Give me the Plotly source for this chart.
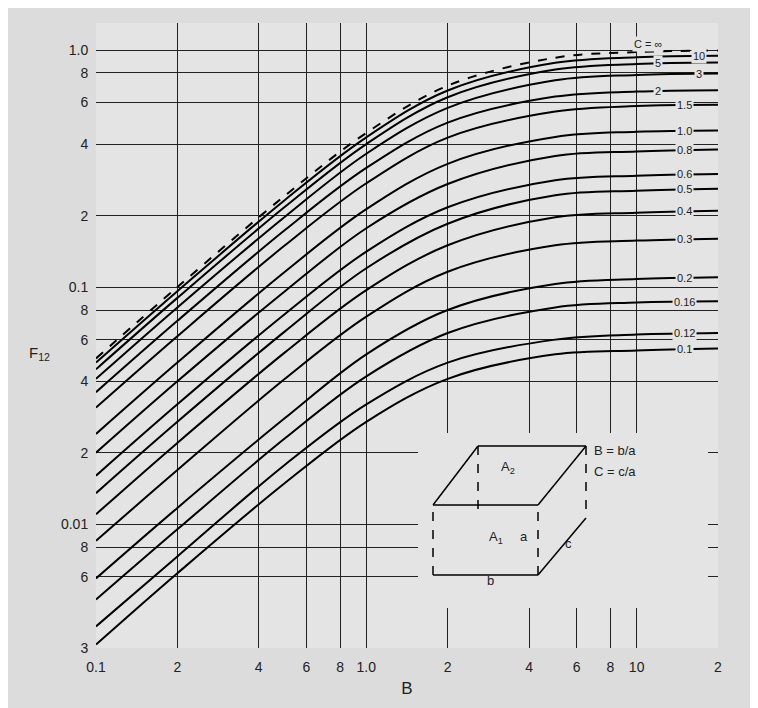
import numpy as np
import plotly.graph_objects as go

B = [0.1, 0.2, 0.5, 1, 2, 5, 10, 20]
C_labels = ["0.1", "0.12", "0.16", "0.2", "0.3", "0.4", "0.5", "0.6", "0.8", "1.0", "1.5", "2", "3", "5", "10", "∞"]
F = [
    [0.0031, 0.0062, 0.0149, 0.027, 0.041, 0.052, 0.054, 0.055],
    [0.0037, 0.0073, 0.0178, 0.032, 0.048, 0.060, 0.063, 0.064],
    [0.0048, 0.0095, 0.023, 0.042, 0.064, 0.082, 0.086, 0.087],
    [0.0059, 0.0117, 0.028, 0.052, 0.080, 0.103, 0.108, 0.11],
    [0.0085, 0.0169, 0.041, 0.075, 0.116, 0.150, 0.157, 0.16],
    [0.011, 0.022, 0.053, 0.097, 0.15, 0.197, 0.206, 0.21],
    [0.0135, 0.027, 0.065, 0.12, 0.185, 0.244, 0.255, 0.26],
    [0.016, 0.032, 0.077, 0.141, 0.217, 0.282, 0.295, 0.30],
    [0.02, 0.04, 0.096, 0.177, 0.272, 0.357, 0.373, 0.38],
    [0.024, 0.048, 0.116, 0.213, 0.331, 0.43, 0.452, 0.458],
    [0.031, 0.062, 0.15, 0.274, 0.427, 0.55, 0.58, 0.587],
    [0.036, 0.072, 0.174, 0.318, 0.494, 0.636, 0.668, 0.677],
    [0.041, 0.082, 0.198, 0.365, 0.57, 0.745, 0.785, 0.796],
    [0.045, 0.09, 0.218, 0.401, 0.632, 0.827, 0.873, 0.886],
    [0.048, 0.096, 0.233, 0.428, 0.675, 0.883, 0.932, 0.945],
    [0.05, 0.1, 0.243, 0.447, 0.707, 0.928, 0.98, 0.995],
]
label_x = {"10": 17, "5": 12, "3": 17, "2": 12}
x_tickvals = [0.1, 0.2, 0.4, 0.6, 0.8, 1.0, 2, 4, 6, 8, 10, 20]
x_ticktext = ["0.1", "2", "4", "6", "8", "1.0", "2", "4", "6", "8", "10", "2"]
y_tickvals = [0.003, 0.006, 0.008, 0.01, 0.02, 0.04, 0.06, 0.08, 0.1, 0.2, 0.4, 0.6, 0.8, 1.0]
y_ticktext = ["3", "6", "8", "0.01", "2", "4", "6", "8", "0.1", "2", "4", "6", "8", "1.0"]

fig = go.Figure()
for lab, f in zip(C_labels, F):
    fig.add_trace(go.Scatter(x=B, y=f, mode="lines", line=dict(color="black", width=2,
                  shape="spline", dash="dash" if lab == "∞" else "solid"), showlegend=False, hoverinfo="skip"))
    if lab != "∞":
        fig.add_annotation(x=np.log10(label_x.get(lab, 15)), y=np.log10(f[-1] * 0.995), text=lab,
                           showarrow=False, font=dict(size=11, color="#222"), bgcolor="#e4e4e4")
fig.add_annotation(x=np.log10(11), y=np.log10(1.06), text="C = ∞", showarrow=False,
                   font=dict(size=11, color="#222"), bgcolor="#e4e4e4")

X0, X1, Y0, Y1 = 88, 710, 15, 640
def P(x, y):
    return (x - X0) / (X1 - X0), (Y1 - y) / (Y1 - Y0)
def line(a, b, dash="solid"):
    (x0, y0), (x1, y1) = P(*a), P(*b)
    fig.add_shape(type="line", xref="paper", yref="paper", x0=x0, y0=y0, x1=x1, y1=y1,
                  line=dict(color="black", width=1.5, dash=dash))
bx0, by0 = P(410, 600); bx1, by1 = P(700, 425)
fig.add_shape(type="rect", xref="paper", yref="paper", x0=bx0, y0=by0, x1=bx1, y1=by1,
              fillcolor="#e4e4e4", line=dict(width=0), layer="above")
line((425, 567), (530, 567)); line((425, 497), (530, 497))
line((425, 567), (425, 497), "dash"); line((530, 567), (530, 497), "dash")
line((425, 497), (470, 438)); line((530, 497), (578, 438)); line((470, 438), (578, 438))
line((470, 438), (470, 510), "dash"); line((578, 438), (578, 510), "dash")
line((530, 567), (578, 510))
for (x, y, t) in [(500, 470, "A<sub>2</sub>"), (488, 540, "A<sub>1</sub>"), (522, 538, "a"),
                  (566, 545, "c"), (482, 582, "b"), (630, 452, "B = b/a"), (630, 473, "C = c/a")]:
    px, py = P(x, y)
    fig.add_annotation(xref="paper", yref="paper", x=px, y=py, text=t, showarrow=False,
                       font=dict(size=13, color="#222"))
fig.add_annotation(xref="paper", yref="paper", x=-0.07, y=P(0, 345)[1], text="F<sub>12</sub>",
                   showarrow=False, xanchor="right", font=dict(size=15, color="#222"))

fig.update_layout(width=758, height=708, margin=dict(l=88, r=48, t=15, b=68),
                  paper_bgcolor="#dcdcdc", plot_bgcolor="#e4e4e4",
                  font=dict(family="Liberation Sans, Arial", size=14, color="#222"))
fig.update_xaxes(type="log", range=[-1, np.log10(20)], tickvals=x_tickvals, ticktext=x_ticktext,
                 showgrid=True, gridcolor="#222", gridwidth=1, title=dict(text="B", standoff=8),
                 ticks="outside", ticklen=6, tickcolor="rgba(0,0,0,0)", zeroline=False)
fig.update_yaxes(type="log", range=[np.log10(0.003), np.log10(1.3)], tickvals=y_tickvals, ticktext=y_ticktext,
                 showgrid=True, gridcolor="#222", gridwidth=1, ticks="outside", ticklen=4,
                 tickcolor="rgba(0,0,0,0)", zeroline=False)
fig.write_html("out.html")
